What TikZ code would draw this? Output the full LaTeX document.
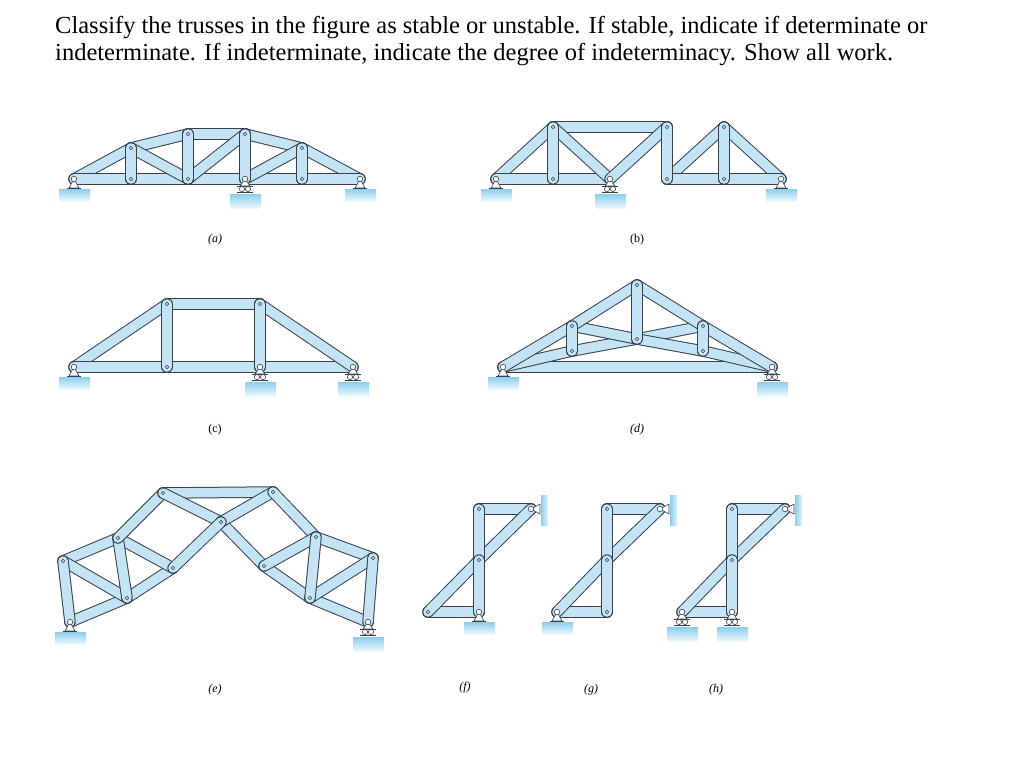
\documentclass[tikz,border=0pt]{standalone}
\usepackage{fontspec}
\setmainfont{Liberation Serif}
\definecolor{barc}{RGB}{196,228,246}
\definecolor{edgec}{RGB}{55,65,75}
\definecolor{gndc}{RGB}{140,205,238}
\tikzset{
  mo/.style={line width=11.5pt,draw=edgec,line cap=round},
  mi/.style={line width=9.5pt,draw=barc,line cap=round},
  jc/.style={draw=edgec,line width=0.5pt,fill=barc},
  sup/.style={draw=edgec,line width=0.6pt,fill=white},
  gnd/.style={top color=gndc,bottom color=gndc!15,draw=none},
  lab/.style={font=\fontsize{12}{14}\selectfont},
  pinsup/.pic={\draw[sup] (0,0)--(-5,9)--(5,9)--cycle; \draw[sup] (-7,9)--(7,9);
     \fill[gnd] (-15,10) rectangle (16,22); \draw[sup] (0,0) circle (2.8);},
  rollsup/.pic={\draw[sup] (0,0)--(-5,7)--(5,7)--cycle; \draw[sup] (-8,7)--(8,7);
     \draw[sup] (-3,10) circle (2.6); \draw[sup] (3,10) circle (2.6); \draw[sup] (-8,13)--(8,13);
     \fill[gnd] (-15,15) rectangle (16,29); \draw[sup] (0,0) circle (2.8);},
  wallsup/.pic={\draw[sup] (0,0)--(9,-5)--(9,5)--cycle; \fill[left color=gndc,right color=gndc!25] (10,-14) rectangle (17,16); \draw[sup] (0,0) circle (2.8);}
}
\newcommand\mbs[1]{\foreach \p/\q in {#1}{\draw[mo] (\p)--(\q); \draw[mi] (\p)--(\q);}}
\newcommand\jts[1]{\foreach \j in {#1}{\draw[jc] (\j) circle (1.8);}}
\begin{document}
\begin{tikzpicture}[x=1pt,y=-1pt]
\useasboundingbox (0,0) rectangle (1024,766);
\node[anchor=base west,inner sep=0,font=\fontsize{24.5}{28}\selectfont] (t1) at (55,33) {Classify the trusses in the figure as stable or unstable. If stable, indicate if determinate or};
\node[anchor=base west,inner sep=0,font=\fontsize{24.5}{28}\selectfont] (t2) at (55,60) {indeterminate. If indeterminate, indicate the degree of indeterminacy. Show all work.};
% (a)
\foreach \n/\x/\y in {a0/74/179,a1t/131/148,a1b/131/179,a2t/188/134,a2b/188/179,a3t/245/134,a3b/245/179,a4t/302/148,a4b/302/179,a5/360/179}
  \coordinate (\n) at (\x,\y);
\mbs{a0/a1t,a1t/a2t,a2t/a3t,a3t/a4t,a4t/a5,a0/a1b,a1b/a2b,a2b/a3b,a3b/a4b,a4b/a5,a1t/a2b,a2b/a3t,a3b/a4t,a1t/a1b,a2t/a2b,a3t/a3b,a4t/a4b}
\jts{a1t,a1b,a2t,a2b,a3t,a4t,a4b}
\pic at (a0) {pinsup}; \pic at (a3b) {rollsup}; \pic at (a5) {pinsup};
\node[lab] (la) at (215,240) {\itshape (a)};
% (b)
\foreach \n/\x/\y in {b0/496/179,b1t/553/127,b1b/553/179,b2/610/179,b3t/667/127,b3b/667/179,b4t/724/127,b4b/724/179,b5/781/179}
  \coordinate (\n) at (\x,\y);
\mbs{b0/b1t,b0/b1b,b1b/b2,b1t/b3t,b1t/b2,b2/b3t,b3b/b4t,b4t/b5,b3b/b4b,b4b/b5,b1t/b1b,b3t/b3b,b4t/b4b}
\jts{b1t,b1b,b3t,b3b,b4t,b4b}
\pic at (b0) {pinsup}; \pic at (b2) {rollsup}; \pic at (b5) {pinsup};
\node[lab] (lb) at (637,240) {(b)};
% (c)
\foreach \n/\x/\y in {c0/74/367,c1t/167/304,c1b/167/367,c2t/260/304,c2b/260/367,c3/353/367}
  \coordinate (\n) at (\x,\y);
\mbs{c0/c1t,c0/c1b,c1b/c2b,c2b/c3,c1t/c2t,c2t/c3,c1t/c1b,c2t/c2b}
\jts{c1t,c1b,c2t}
\pic at (c0) {pinsup}; \pic at (c2b) {rollsup}; \pic at (c3) {rollsup};
\node[lab] (lc) at (215,430) {(c)};
% (d)
\foreach \n/\x/\y in {d0/503/367,d1t/572/326,d1b/572/351,d2t/637/285,d2b/637/339,d3t/703/326,d3b/703/351,d4/772/367}
  \coordinate (\n) at (\x,\y);
\mbs{d0/d4,d0/d1b,d1b/d2b,d2b/d3t,d1t/d2b,d2b/d3b,d3b/d4,d0/d1t,d1t/d2t,d2t/d3t,d3t/d4,d1t/d1b,d2t/d2b,d3t/d3b}
\jts{d1t,d1b,d2t,d2b,d3t,d3b}
\pic at (d0) {pinsup}; \pic at (d4) {rollsup};
\node[lab] (ld) at (637,430) {\itshape (d)};
% (e)
\foreach \n/\x/\y in {eA/70/622,eB/63/561,eC/118/538,eD/127/598,eE/173/568,eF/163/493,eG/273/492,eH/221/522,eI/264/566,eJ/316/537,eK/310/598,eL/373/558,eM/368/622}
  \coordinate (\n) at (\x,\y);
\mbs{eA/eD,eB/eC,eB/eD,eD/eE,eC/eE,eA/eB,eC/eD,eC/eF,eF/eG,eF/eH,eH/eI,eG/eH,eH/eE,eG/eJ,eI/eK,eJ/eI,eJ/eL,eK/eM,eL/eK,eJ/eK,eL/eM}
\jts{eB,eC,eD,eE,eF,eG,eH,eI,eJ,eK,eL}
\pic at (eA) {pinsup}; \pic at (eM) {rollsup};
\node[lab] (le) at (215,690) {\itshape (e)};
% (f)
\foreach \n/\x/\y in {f1/479/509,f2/531/509,f3/479/560,f4/479/612,f5/428/612}
  \coordinate (\n) at (\x,\y);
\mbs{f1/f2,f5/f4,f5/f3,f3/f2,f1/f3,f3/f4}
\jts{f1,f3,f5}
\pic at (f2) {wallsup}; \pic at (f4) {pinsup};
\node[lab] (lf) at (465,688) {\itshape (f)};
% (g)
\foreach \n/\x/\y in {g1/607/509,g2/660/509,g3/607/560,g4/607/612,g5/557/612}
  \coordinate (\n) at (\x,\y);
\mbs{g1/g2,g5/g4,g5/g3,g3/g2,g1/g3,g3/g4}
\jts{g1,g3,g4}
\pic at (g2) {wallsup}; \pic at (g5) {pinsup};
\node[lab] (lg) at (591,690) {\itshape (g)};
% (h)
\foreach \n/\x/\y in {h1/732/509,h2/785/509,h3/732/560,h4/732/612,h5/682/612}
  \coordinate (\n) at (\x,\y);
\mbs{h1/h2,h5/h4,h5/h3,h3/h2,h1/h3,h3/h4}
\jts{h1,h3}
\pic at (h2) {wallsup}; \pic at (h4) {rollsup}; \pic at (h5) {rollsup};
\node[lab] (lh) at (716,690) {\itshape (h)};
\end{tikzpicture}
\end{document}
